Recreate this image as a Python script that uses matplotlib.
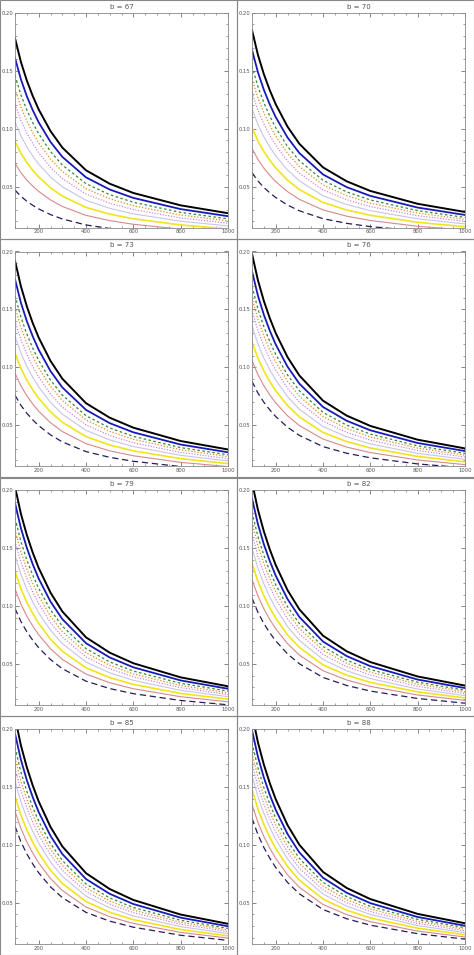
import matplotlib
matplotlib.use("Agg")
import matplotlib.pyplot as plt
from matplotlib.patches import Rectangle
import numpy as np

b_values = [67, 70, 73, 76, 79, 82, 85, 88]
x_grid = [100, 125, 150, 175, 200, 250, 300, 400, 500, 600, 800, 1000]
# relative decay (value / value at x=100)
decay = [1.0, 0.885, 0.795, 0.72, 0.655, 0.55, 0.47, 0.36, 0.295, 0.25, 0.19, 0.152]
# starting values at x=100 for each curve, per panel
start_67 = [0.178, 0.161, 0.146, 0.134, 0.121, 0.106, 0.089, 0.070, 0.047]
start_70 = [0.185, 0.168, 0.154, 0.143, 0.131, 0.117, 0.101, 0.083, 0.062]
start_73 = [0.192, 0.176, 0.162, 0.152, 0.140, 0.127, 0.112, 0.095, 0.076]
start_76 = [0.198, 0.183, 0.170, 0.160, 0.149, 0.136, 0.122, 0.106, 0.088]
start_79 = [0.203, 0.189, 0.176, 0.166, 0.156, 0.144, 0.130, 0.115, 0.098]
start_82 = [0.207, 0.193, 0.181, 0.172, 0.162, 0.150, 0.137, 0.123, 0.107]
start_85 = [0.210, 0.196, 0.184, 0.175, 0.166, 0.155, 0.142, 0.129, 0.116]
start_88 = [0.213, 0.199, 0.188, 0.179, 0.170, 0.160, 0.148, 0.135, 0.123]
starts = [start_67, start_70, start_73, start_76, start_79, start_82, start_85, start_88]

styles = [
    dict(color="black", lw=1.4, ls="-"),
    dict(color="#1a1ab8", lw=1.3, ls="-"),
    dict(color="#2e8a3a", lw=0.9, ls=(0, (2, 2))),
    dict(color="#e88a1a", lw=0.9, ls=(0, (1, 1.5))),
    dict(color="#c070e0", lw=0.8, ls=(0, (1, 1.5))),
    dict(color="#c8c4ea", lw=0.8, ls="-"),
    dict(color="#f2e41c", lw=1.2, ls="-"),
    dict(color="#d68a8a", lw=0.8, ls="-"),
    dict(color="#2a1a5a", lw=0.9, ls=(0, (5, 3))),
]

W, H = 474, 955
fig = plt.figure(figsize=(W / 100, H / 100), dpi=100)
cw, ch = 237, 238.75
x = np.array(x_grid)
d = np.array(decay)
for i, b in enumerate(b_values):
    r, c = divmod(i, 2)
    x0 = c * cw
    y0 = H - (r + 1) * ch
    fig.patches.append(Rectangle((x0 / W, y0 / H), cw / W, ch / H, transform=fig.transFigure,
                                 fill=False, ec="#888888", lw=0.8))
    ax = fig.add_axes([(x0 + 15) / W, (y0 + 11) / H, 213 / W, 215 / H])
    for s, st in zip(starts[i], styles):
        ax.plot(x, s * d, **st)
    ax.set_xlim(100, 1000)
    ax.set_ylim(0.0145, 0.20)
    ax.set_xticks([200, 400, 600, 800, 1000])
    ax.set_yticks([0.05, 0.10, 0.15, 0.20])
    ax.set_yticklabels(["0.05", "0.10", "0.15", "0.20"])
    ax.set_xticks(np.arange(100, 1001, 50), minor=True)
    ax.set_yticks(np.arange(0.02, 0.20, 0.01), minor=True)
    ax.tick_params(which="both", direction="in", top=True, right=True, labelsize=3.8, pad=1.2,
                   colors="#555555")
    ax.tick_params(which="major", length=3, width=0.5)
    ax.tick_params(which="minor", length=1.5, width=0.4)
    for sp in ax.spines.values():
        sp.set_color("#888888")
        sp.set_linewidth(0.6)
    ax.set_title(f"b = {b}", fontsize=5, color="#555555", pad=3)

fig.savefig("out.png", dpi=100)
